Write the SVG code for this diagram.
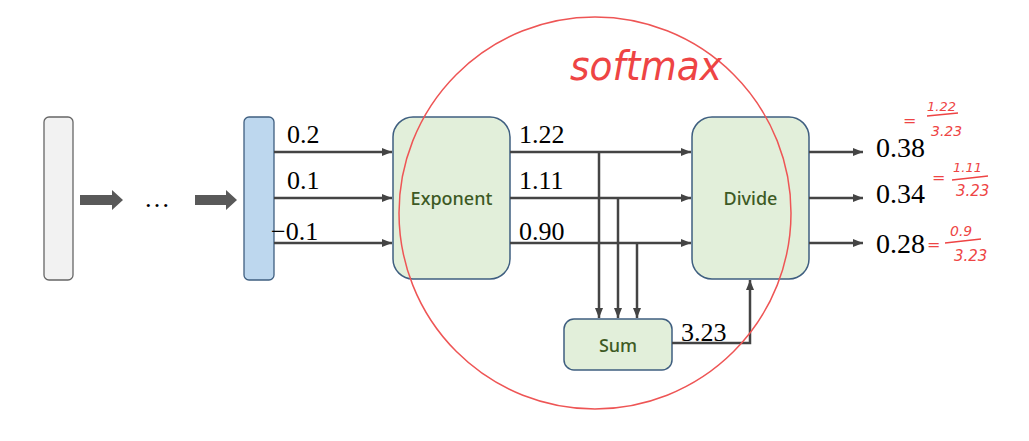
<svg xmlns="http://www.w3.org/2000/svg" width="1029" height="441" viewBox="0 0 1029 441">
<style>
.num{font-family:"Liberation Serif","DejaVu Serif",serif;font-size:26px;fill:#000}
.out{font-family:"Liberation Serif","DejaVu Serif",serif;font-size:28px;fill:#000}
.lbl{font-family:"Noto Sans","Liberation Sans",sans-serif;font-size:18px;font-weight:500;fill:#3d5a24;text-anchor:middle}
.box{fill:#e2efda;stroke:#3f5f80;stroke-width:1.5}
.con{fill:none;stroke:#444;stroke-width:2.5}
.hand{font-family:"DejaVu Sans","Liberation Sans",sans-serif;fill:#ee4444;font-style:italic}
</style>
<defs>
<marker id="ah" viewBox="0 0 10 8" refX="10" refY="4" markerWidth="10" markerHeight="8" markerUnits="userSpaceOnUse" orient="auto">
<path d="M0,0 L10,4 L0,8 z" fill="#444"/>
</marker>
</defs>
<rect width="1029" height="441" fill="#fff"/>
<g id="input-layer">
<rect x="44" y="117" width="29" height="163" rx="5" fill="#f2f2f2" stroke="#666" stroke-width="1.3"/>
</g>
<g id="big-arrows">
<path d="M80,195 L112,195 L112,190 L123,200 L112,210 L112,205 L80,205 z" fill="#595959"/>
<path d="M195,195 L226,195 L226,190 L237,200 L226,210 L226,205 L195,205 z" fill="#595959"/>
<text x="157" y="207" font-family="Liberation Serif,serif" font-size="26" text-anchor="middle" fill="#000">…</text>
</g>
<g id="logits-layer">
<rect x="244" y="117" width="30" height="163" rx="5" fill="#bdd7ee" stroke="#3f5f80" stroke-width="1.3"/>
</g>
<g id="exponent">
<rect class="box" x="393" y="117" width="117" height="162" rx="20"/>
<text class="lbl" x="451.5" y="205">Exponent</text>
</g>
<g id="divide">
<rect class="box" x="692" y="117" width="117" height="162" rx="20"/>
<text class="lbl" x="750.5" y="205">Divide</text>
</g>
<g id="sum">
<rect class="box" x="564" y="319" width="108" height="51" rx="10"/>
<text class="lbl" x="618" y="352">Sum</text>
</g>
<g id="connectors">
<line class="con" x1="274" y1="152" x2="392" y2="152" marker-end="url(#ah)"/>
<line class="con" x1="274" y1="198" x2="392" y2="198" marker-end="url(#ah)"/>
<line class="con" x1="274" y1="243" x2="392" y2="243" marker-end="url(#ah)"/>
<line class="con" x1="510" y1="152" x2="691" y2="152" marker-end="url(#ah)"/>
<line class="con" x1="510" y1="198" x2="691" y2="198" marker-end="url(#ah)"/>
<line class="con" x1="510" y1="243" x2="691" y2="243" marker-end="url(#ah)"/>
<line class="con" x1="599" y1="152" x2="599" y2="318" marker-end="url(#ah)"/>
<line class="con" x1="618" y1="198" x2="618" y2="318" marker-end="url(#ah)"/>
<line class="con" x1="637" y1="243" x2="637" y2="318" marker-end="url(#ah)"/>
<polyline class="con" points="672,343 750,343 750,280" marker-end="url(#ah)"/>
<line class="con" x1="809" y1="152" x2="863" y2="152" marker-end="url(#ah)"/>
<line class="con" x1="809" y1="198" x2="863" y2="198" marker-end="url(#ah)"/>
<line class="con" x1="809" y1="243" x2="863" y2="243" marker-end="url(#ah)"/>
</g>
<g id="labels">
<text class="num" x="287" y="143">0.2</text>
<text class="num" x="287" y="189">0.1</text>
<text class="num" x="271" y="240">−0.1</text>
<text class="num" x="519" y="143">1.22</text>
<text class="num" x="519" y="189">1.11</text>
<text class="num" x="519" y="240">0.90</text>
<text class="num" x="681" y="341">3.23</text>
<text class="out" x="876" y="157">0.38</text>
<text class="out" x="876" y="203">0.34</text>
<text class="out" x="876" y="253">0.28</text>
</g>
<g id="softmax-annotation">
<circle cx="595" cy="213" r="196" fill="none" stroke="#ee5555" stroke-width="1.5"/>
<text class="hand" x="570" y="80" font-size="40" font-weight="300" textLength="152" lengthAdjust="spacingAndGlyphs">softmax</text>
<text class="hand" x="903" y="126" font-size="16">=</text>
<text class="hand" x="927" y="111" font-size="13">1.22</text>
<line x1="927" y1="116" x2="958" y2="113" stroke="#ee4444" stroke-width="1.5"/>
<text class="hand" x="931" y="136" font-size="14">3.23</text>
<text class="hand" x="932" y="183" font-size="16">=</text>
<text class="hand" x="953" y="172" font-size="13">1.11</text>
<line x1="952" y1="180" x2="988" y2="176" stroke="#ee4444" stroke-width="1.5"/>
<text class="hand" x="956" y="196" font-size="15">3.23</text>
<text class="hand" x="927" y="250" font-size="16">=</text>
<text class="hand" x="950" y="236" font-size="14">0.9</text>
<line x1="945" y1="243" x2="981" y2="239" stroke="#ee4444" stroke-width="1.5"/>
<text class="hand" x="954" y="261" font-size="15">3.23</text>
</g>
</svg>
